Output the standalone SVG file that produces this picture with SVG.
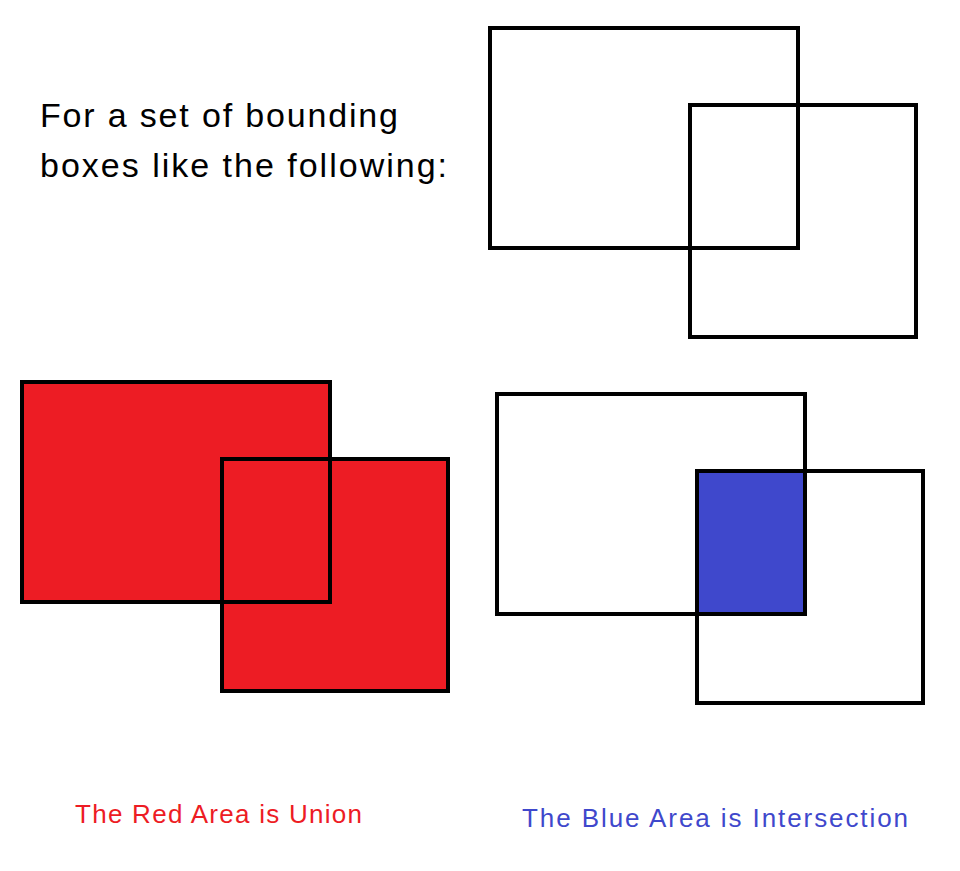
<svg xmlns="http://www.w3.org/2000/svg" width="960" height="871" viewBox="0 0 960 871">
<style>
.b{fill:none;stroke:#000;stroke-width:4}
.t{font-family:"Liberation Sans",Arial,sans-serif}
</style>
<rect width="960" height="871" fill="#fff"/>
<g id="caption"><text class="t" x="40" y="127" font-size="34" textLength="358">For a set of bounding</text>
<text class="t" x="40" y="177" font-size="34" textLength="407">boxes like the following:</text></g>
<g id="top">
<rect class="b" x="490" y="28" width="308" height="220"/>
<rect class="b" x="690" y="105" width="226" height="232"/>
</g>
<g id="union">
<rect x="22" y="382" width="308" height="220" fill="#ED1C24"/>
<rect x="222" y="459" width="226" height="232" fill="#ED1C24"/>
<rect class="b" x="22" y="382" width="308" height="220"/>
<rect class="b" x="222" y="459" width="226" height="232"/>
<text class="t" x="75" y="823" font-size="26" fill="#ED1C24" textLength="287">The Red Area is Union</text>
</g>
<g id="intersection">
<rect x="697" y="471" width="108" height="143" fill="#3F48CC"/>
<rect class="b" x="497" y="394" width="308" height="220"/>
<rect class="b" x="697" y="471" width="226" height="232"/>
<text class="t" x="522" y="827" font-size="26" fill="#3F48CC" textLength="386">The Blue Area is Intersection</text>
</g>
</svg>
